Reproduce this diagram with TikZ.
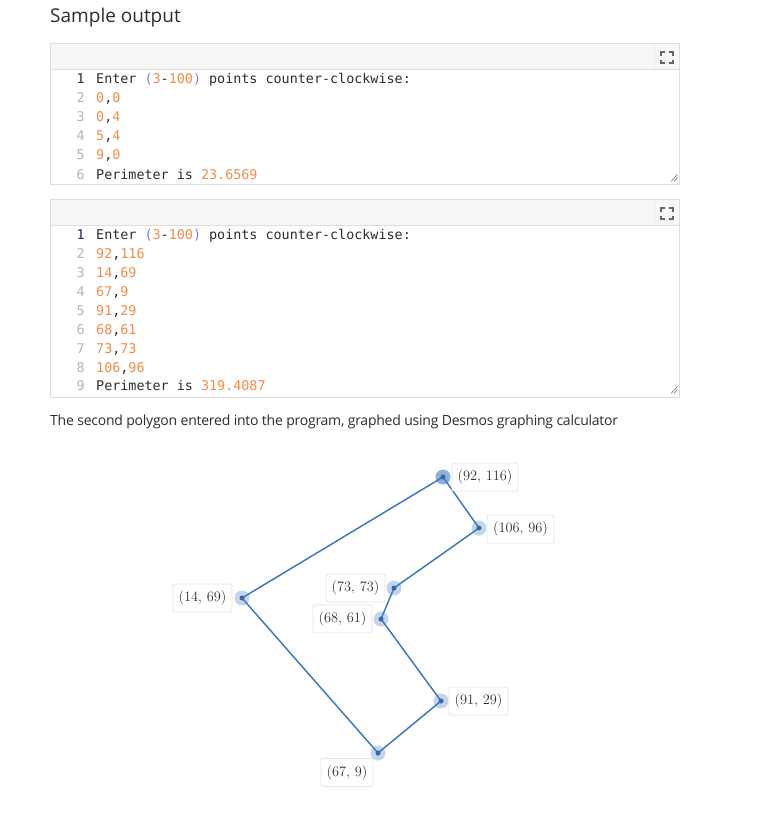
\documentclass[tikz,border=0pt]{standalone}
\usepackage{fontspec}
\setmainfont{Open Sans}
\setmonofont{DejaVu Sans Mono}
\definecolor{bord}{HTML}{DDDDDD}
\definecolor{head}{HTML}{F7F7F7}
\definecolor{num}{HTML}{F08D49}
\definecolor{paren}{HTML}{7C7CEB}
\definecolor{ink}{HTML}{2D2D33}
\definecolor{gut}{HTML}{B5B5B5}
\definecolor{gutone}{HTML}{1F2A55}
\definecolor{edgeblue}{HTML}{3F7ABD}
\definecolor{halo}{HTML}{C3D5EB}
\definecolor{halodark}{HTML}{8FB0D9}
\definecolor{iconc}{HTML}{666666}
\newcommand{\nm}[1]{\textcolor{num}{#1}}
\newcommand{\pa}[1]{\textcolor{paren}{#1}}
\tikzset{
  x=1pt,y=-1pt,
  codebody/.style={draw=bord,line width=1pt,fill=white},
  codehead/.style={draw=bord,line width=1pt,fill=head},
  gutter/.style={anchor=base east,inner sep=0pt,text=gut,font=\ttfamily\fontsize{13.4}{16}\selectfont},
  gutterone/.style={gutter,text=gutone},
  code/.style={anchor=base west,inner sep=0pt,text=ink,font=\ttfamily\fontsize{13.4}{16}\selectfont},
  heading/.style={anchor=base west,inner sep=0pt,text=ink},
  pointlabel/.style={draw=black!10,line width=0.8pt,rounded corners=2pt,fill=white,text=black!80,inner sep=0pt,minimum height=28pt,font=\fontsize{14.4}{16}\selectfont},
  haloring/.style={circle,fill=halo,inner sep=0pt,minimum size=15pt},
  haloringdark/.style={circle,fill=halodark,inner sep=0pt,minimum size=15pt},
  dotpt/.style={circle,fill=edgeblue!85!black,inner sep=0pt,minimum size=5pt},
  polyedge/.style={draw=edgeblue,line width=1.5pt},
  iconline/.style={draw=iconc,line width=2pt},
  grip/.style={draw=black!55,line width=0.6pt},
}
\begin{document}
\begin{tikzpicture}
\useasboundingbox (0,0) rectangle (777,813);
\fill[white] (0,0) rectangle (777,813);

\node[heading,font=\fontsize{19}{24}\selectfont] (title) at (50,23) {Sample output};

% first code box
\draw[codebody] (50.5,43.5) rectangle (679.5,184.5);
\draw[codehead] (50.5,43.5) rectangle (679.5,69.5);
\draw[draw=black!7] (654.5,44) -- (654.5,69);
\node[gutterone] (a1n) at (85,84) {1};
\node[code] (a1) at (96,84) {Enter \pa{(}\nm{3}\textcolor{ink}{-}\nm{100}\pa{)} points counter-clockwise:};
\node[gutter] (a2n) at (85,103) {2};
\node[code] (a2) at (96,103) {\nm{0},\nm{0}};
\node[gutter] (a3n) at (85,122) {3};
\node[code] (a3) at (96,122) {\nm{0},\nm{4}};
\node[gutter] (a4n) at (85,141) {4};
\node[code] (a4) at (96,141) {\nm{5},\nm{4}};
\node[gutter] (a5n) at (85,160) {5};
\node[code] (a5) at (96,160) {\nm{9},\nm{0}};
\node[gutter] (a6n) at (85,179) {6};
\node[code] (a6) at (96,179) {Perimeter is \nm{23.6569}};

% second code box
\draw[codebody] (50.5,199.5) rectangle (679.5,397);
\draw[codehead] (50.5,199.5) rectangle (679.5,225.5);
\draw[draw=black!7] (654.5,200) -- (654.5,225);
\node[gutterone] (b1n) at (85,239) {1};
\node[code] (b1) at (96,239) {Enter \pa{(}\nm{3}\textcolor{ink}{-}\nm{100}\pa{)} points counter-clockwise:};
\node[gutter] (b2n) at (85,258) {2};
\node[code] (b2) at (96,258) {\nm{92},\nm{116}};
\node[gutter] (b3n) at (85,277) {3};
\node[code] (b3) at (96,277) {\nm{14},\nm{69}};
\node[gutter] (b4n) at (85,296) {4};
\node[code] (b4) at (96,296) {\nm{67},\nm{9}};
\node[gutter] (b5n) at (85,315) {5};
\node[code] (b5) at (96,315) {\nm{91},\nm{29}};
\node[gutter] (b6n) at (85,334) {6};
\node[code] (b6) at (96,334) {\nm{68},\nm{61}};
\node[gutter] (b7n) at (85,353) {7};
\node[code] (b7) at (96,353) {\nm{73},\nm{73}};
\node[gutter] (b8n) at (85,372) {8};
\node[code] (b8) at (96,372) {\nm{106},\nm{96}};
\node[gutter] (b9n) at (85,390) {9};
\node[code] (b9) at (96,390) {Perimeter is \nm{319.4087}};

% fullscreen icons
\foreach \yy in {0,155.5}{
  \draw[iconline] (660.8,56+\yy) -- (660.8,52+\yy) -- (665,52+\yy);
  \draw[iconline] (668.5,52+\yy) -- (672.8,52+\yy) -- (672.8,56+\yy);
  \draw[iconline] (660.8,60+\yy) -- (660.8,63.5+\yy) -- (665,63.5+\yy);
  \draw[iconline] (668.5,63.5+\yy) -- (672.8,63.5+\yy) -- (672.8,60+\yy);
}
% resize grips
\foreach \yy in {0,212}{
  \draw[grip] (671,182+\yy-0.5) -- (677.5,174.5+\yy);
  \draw[grip] (674,182+\yy-0.5) -- (677.5,177.5+\yy);
}

\node[heading,font=\addfontfeature{LetterSpace=-1.7}\fontsize{14}{18}\selectfont] (caption) at (50,425) {The second polygon entered into the program, graphed using Desmos graphing calculator};

% polygon
\node[haloringdark] (ha) at (443,477) {};
\node[haloring] (hb) at (479,528) {};
\node[haloring] (hc) at (394,588) {};
\node[haloring] (hd) at (381,619) {};
\node[haloring] (he) at (441,701) {};
\node[haloring] (hf) at (378,753) {};
\node[haloring] (hg) at (242,598) {};
\draw[polyedge,line join=round] (ha.center) -- (hb.center) -- (hc.center) -- (hd.center) -- (he.center) -- (hf.center) -- (hg.center) -- cycle;
\foreach \n in {ha,hb,hc,hd,he,hf,hg}{\node[dotpt] at (\n.center) {};}

\node[pointlabel,minimum width=66pt] (la) at (485,477) {$(92,\,116)$};
\node[pointlabel,minimum width=67pt] (lb) at (520.5,529) {$(106,\,96)$};
\node[pointlabel,minimum width=59pt] (lc) at (355.5,588) {$(73,\,73)$};
\node[pointlabel,minimum width=59pt] (ld) at (342.5,619) {$(68,\,61)$};
\node[pointlabel,minimum width=59pt] (lg) at (202.5,598) {$(14,\,69)$};
\node[pointlabel,minimum width=59pt] (le) at (478.5,701) {$(91,\,29)$};
\node[pointlabel,minimum width=52pt] (lf) at (347,772.5) {$(67,\,9)$};
\end{tikzpicture}
\end{document}
